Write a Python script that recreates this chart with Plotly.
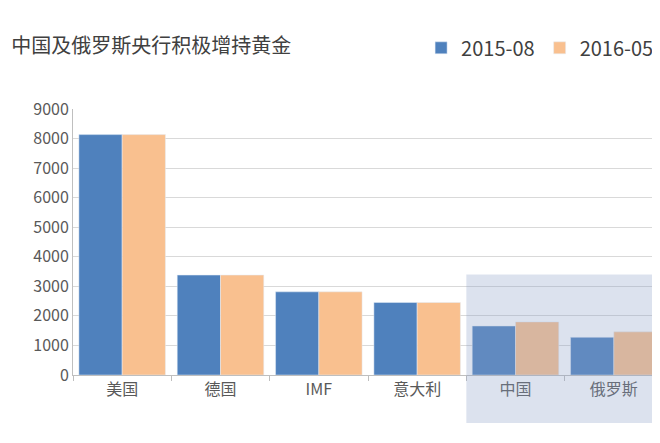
import plotly.graph_objects as go

categories = ["美国", "德国", "IMF", "意大利", "中国", "俄罗斯"]
s2015 = [8133, 3381, 2814, 2452, 1658, 1275]
s2016 = [8133, 3381, 2814, 2452, 1797, 1460]
yticks = list(range(0, 9001, 1000))

fig = go.Figure()
fig.add_bar(x=categories, y=s2015, name="2015-08", marker_color="#4f81bd")
fig.add_bar(x=categories, y=s2016, name="2016-05", marker_color="#f9c08f")

fig.add_shape(type="rect", xref="x", yref="paper", x0=3.5, x1=5.5, y0=-0.18, y1=3400/9000,
              fillcolor="rgba(140,160,200,0.3)", line_width=0, layer="above")

font = "Noto Sans CJK SC"
fig.update_layout(
    width=660, height=443, margin=dict(l=65, r=5, t=101, b=76, autoexpand=False),
    plot_bgcolor="white", paper_bgcolor="white",
    bargap=0.12, bargroupgap=0,
    font=dict(family=font, color="#595959", size=16),
    title=dict(text="中国及俄罗斯央行积极增持黄金", x=0.005, xanchor="left", y=0.915, yanchor="middle",
               font=dict(size=20, color="#404040")),
    legend=dict(orientation="h", x=0.59, xanchor="left", y=1.23, yanchor="middle",
                font=dict(size=20, color="#404040"), itemwidth=30),
    yaxis=dict(range=[0, 9000], tickvals=yticks, gridcolor="#d9d9d9", showline=True,
               linecolor="#bfbfbf", ticks="", zeroline=False, automargin=False),
    xaxis=dict(showline=True, linecolor="#bfbfbf", ticks="outside", tickcolor="#bfbfbf",
               ticklen=5, tickson="boundaries", automargin=False),
)
fig.write_html("out.html")
